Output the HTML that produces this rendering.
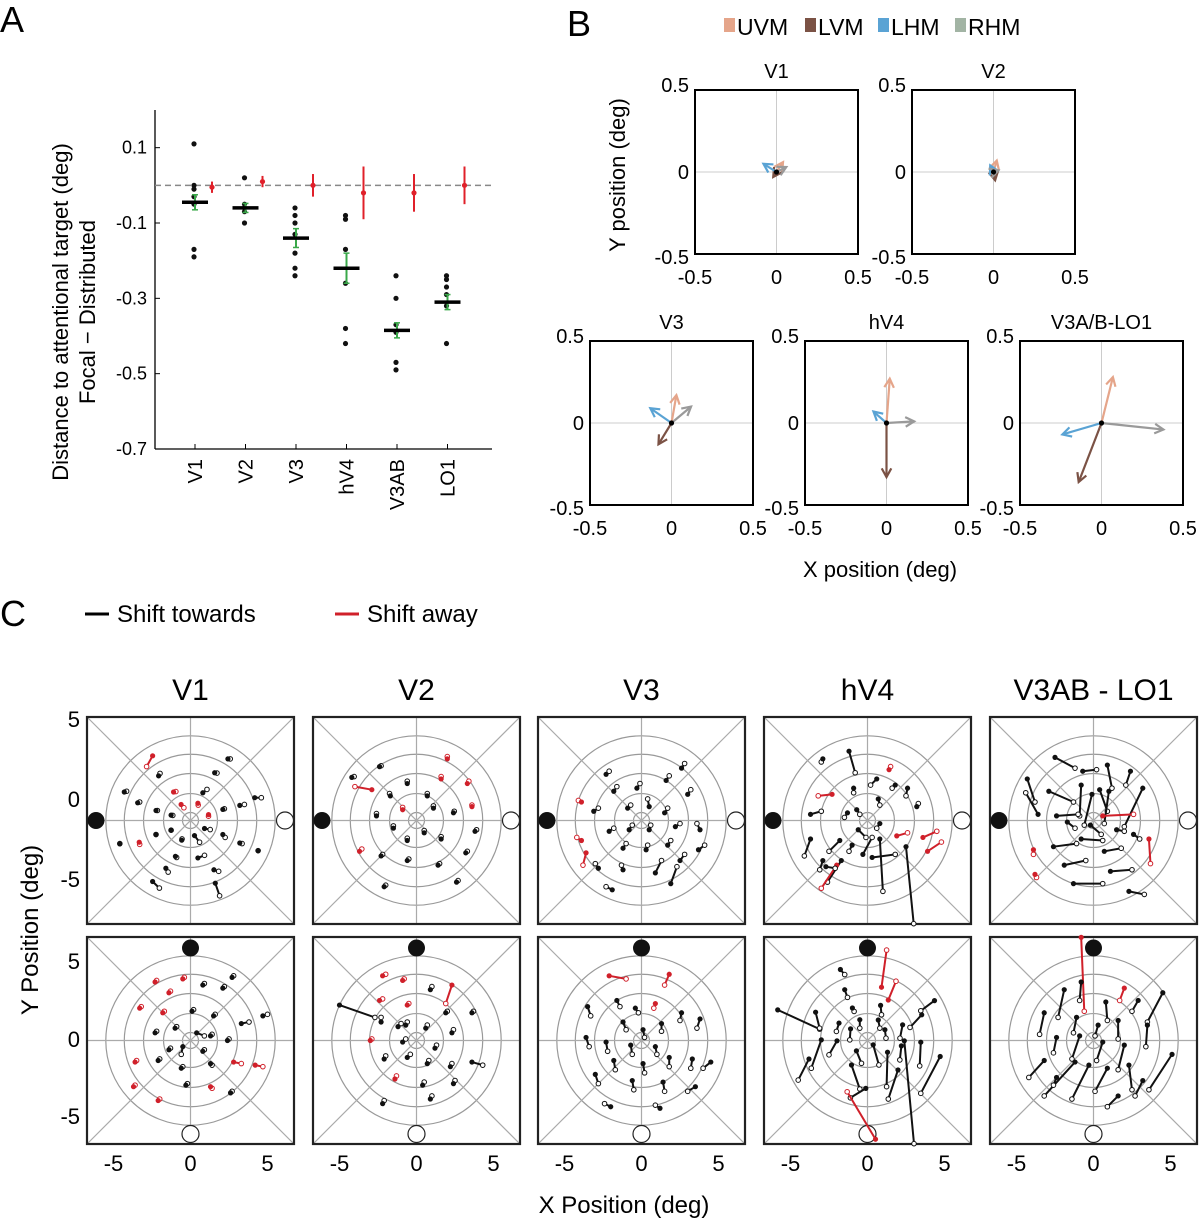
<!DOCTYPE html>
<html><head><meta charset="utf-8"><style>
body{margin:0;background:#fff}
svg{display:block;font-family:"Liberation Sans",sans-serif}
</style></head><body>
<svg id="fig" width="1200" height="1221" viewBox="0 0 1200 1221" xmlns="http://www.w3.org/2000/svg">
<g id="A"></g>
<g id="B"></g>
<g id="C"></g>
</svg>
<script>
// ---------- Panel A data ----------
const aCats = ["V1","V2","V3","hV4","V3AB","LO1"];
const aMeans = [-0.045,-0.06,-0.14,-0.22,-0.385,-0.31];
const aSE = [0.02,0.012,0.025,0.04,0.02,0.02];
const aDots = [[0.11,0.0,-0.01,-0.03,-0.05,-0.17,-0.19],[0.02,-0.05,-0.06,-0.07,-0.1],[-0.06,-0.08,-0.1,-0.13,-0.18,-0.22,-0.24],[-0.08,-0.09,-0.17,-0.26,-0.38,-0.42],[-0.24,-0.3,-0.37,-0.39,-0.47,-0.49],[-0.24,-0.25,-0.27,-0.29,-0.32,-0.42]];
const aRedMean = [-0.005,0.01,0.0,-0.02,-0.02,0.0];
const aRedErr = [0.015,0.015,0.03,0.07,0.05,0.05];
const aTicks = [0.1,-0.1,-0.3,-0.5,-0.7];

// ---------- Panel B data ----------
const bAreas = ["V1","V2","V3","hV4","V3A/B-LO1"];
const bConds = ["UVM","LVM","LHM","RHM"];
const bDX = [[0.04,-0.02,-0.08,0.06],[0.02,0.01,-0.02,0.03],[0.03,-0.08,-0.13,0.12],[0.02,0.0,-0.08,0.17],[0.07,-0.14,-0.24,0.38]];
const bDY = [[0.06,-0.03,0.05,0.03],[0.07,-0.05,0.04,0.01],[0.17,-0.13,0.09,0.1],[0.27,-0.33,0.07,0.01],[0.28,-0.36,-0.07,-0.04]];
const bTicks = [-0.5,0,0.5];

// ---------- Panel C data: [x1,y1,x2,y2,red] in deg (filled -> open) ----------
const cTitles = ["V1","V2","V3","hV4","V3AB - LO1"];
const cR1V1 = [[-2.46,4.2,-2.85,3.5,1],[-2.07,2.9,-1.98,3.06,0],[-4.3,1.85,-4.15,1.9,0],[-3.43,1.15,-3.3,1.2,0],[-2.24,0.65,-2.15,0.65,0],[-1.26,0.35,-1.15,0.33,0],[-1.1,1.85,-0.95,1.88,1],[-0.61,1.04,-0.43,0.83,1],[0.48,1.12,0.5,1.0,1],[1.17,0.38,1.17,0.28,1],[0.8,1.8,1.07,2.02,0],[1.57,3.1,1.72,3.08,0],[2.43,4.0,2.58,4.0,0],[4.17,1.48,4.6,1.48,0],[3.2,0.98,3.5,1.04,0],[2.1,0.72,2.2,0.76,0],[0.91,-0.52,1.28,-0.59,0],[0.26,-0.98,0.59,-1.41,0],[-0.57,-1.28,-0.55,-1.2,0],[-1.26,-0.63,-1.26,-0.63,0],[-2.24,-0.91,-2.24,-0.91,0],[-4.59,-1.52,-4.59,-1.5,0],[-3.33,-1.41,-3.3,-1.55,1],[-0.98,-2.33,-0.9,-2.4,0],[0.48,-2.43,0.91,-2.26,0],[2.1,-0.91,2.25,-1.1,0],[3.2,-1.46,3.35,-1.5,0],[4.39,-1.96,4.39,-1.96,0],[1.52,-3.2,1.83,-3.3,0],[-1.6,-3.1,-1.45,-3.35,0],[-2.46,-3.96,-2.02,-4.39,0],[1.61,-4.07,1.89,-4.89,0]];
const cR1V2 = [[-2.9,2.0,-4.0,2.2,1],[-3.7,-2.0,-3.55,-1.85,1],[-4.2,2.8,-4.05,2.85,0],[-2.4,3.5,-2.3,3.55,0],[-1.7,1.6,-1.75,1.75,0],[-0.6,2.4,-0.6,2.55,0],[1.6,2.7,1.6,2.85,1],[2.0,4.0,2.0,4.15,1],[3.3,2.4,3.4,2.55,1],[3.6,0.9,3.6,1.0,1],[2.4,0.5,2.45,0.6,0],[1.1,0.8,1.1,0.95,0],[0.7,1.6,0.7,1.75,0],[-0.9,0.7,-0.9,0.85,1],[-2.6,0.3,-2.6,0.45,0],[-1.5,-0.5,-1.5,-0.35,0],[0.5,-0.8,0.5,-0.65,0],[-0.6,-1.3,-0.6,-1.15,0],[1.6,-1.2,1.6,-1.05,0],[-2.3,-2.3,-2.2,-2.2,0],[-0.6,-2.6,-0.5,-2.5,0],[1.4,-2.9,1.5,-2.8,0],[3.2,-2.1,3.3,-2.0,0],[2.6,-4.0,2.7,-3.9,0],[-2.1,-4.3,-2.0,-4.2,0],[3.8,-0.7,3.9,-0.6,0]];
const cR1V3 = [[-3.9,1.2,-4.1,1.3,1],[-3.9,-1.3,-4.2,-1.1,1],[-3.6,-2.1,-3.8,-2.9,1],[-2.3,3.0,-2.1,3.2,0],[-3.1,0.6,-2.8,0.8,0],[-1.8,1.9,-1.6,2.2,0],[-0.3,2.1,-0.1,2.4,0],[1.6,2.6,1.8,2.9,0],[3.0,1.7,3.2,2.0,0],[2.6,3.4,2.8,3.7,0],[-0.9,0.8,-0.7,1.0,0],[0.5,0.9,0.4,1.4,0],[1.5,0.5,1.7,0.8,0],[2.2,-0.4,2.5,-0.2,0],[3.8,-0.6,3.6,-0.2,0],[0.5,-0.6,0.6,-0.3,0],[-0.8,-0.6,-0.6,-0.3,0],[-2.1,-0.7,-1.8,-0.5,0],[-1.2,-1.8,-1.0,-1.5,0],[0.3,-1.9,0.4,-1.6,0],[1.7,-1.6,1.9,-1.3,0],[2.5,-2.6,2.8,-2.2,0],[0.9,-3.4,1.3,-2.6,0],[-1.2,-3.2,-1.3,-2.9,0],[-2.8,-3.1,-3.0,-2.8,0],[-1.9,-4.5,-2.3,-4.3,0],[1.9,-4.1,2.3,-3.0,0],[3.7,-1.9,4.1,-1.6,0]];
const cR1HV4 = [[-2.3,1.7,-3.2,1.6,1],[-1.2,4.5,-0.8,3.1,0],[-2.9,4.0,-3.0,3.8,0],[-0.9,2.1,-0.9,1.8,0],[0.6,2.7,0.2,2.3,0],[1.4,3.3,1.5,3.5,1],[1.8,2.3,1.6,2.1,0],[2.6,2.1,2.5,1.6,0],[3.2,0.9,3.3,1.1,0],[-3.7,0.4,-3.0,0.6,0],[-1.3,0.5,-1.5,0.2,0],[-0.7,0.7,-0.5,0.4,0],[0.7,1.4,0.8,1.0,0],[-0.6,-0.6,-0.1,-1.1,0],[0.8,-0.2,0.6,-0.5,0],[1.9,-1.0,2.6,-0.8,1],[3.6,-1.1,4.5,-0.7,1],[3.9,-2.0,4.8,-1.4,1],[-3.7,-1.2,-4.1,-2.3,0],[-2.9,-2.6,-3.1,-3.2,0],[-1.8,-1.3,-2.5,-2.0,0],[-1.0,-1.6,-1.2,-2.0,0],[-0.3,-2.2,0.3,-1.1,0],[0.3,-2.4,1.8,-2.2,0],[-1.7,-2.6,-2.6,-4.0,0],[-2.0,-2.9,-3.0,-4.4,1],[0.8,-1.2,1.0,-4.6,0],[2.5,-1.7,3.0,-6.7,0],[-2.7,-3.0,-2.1,-3.1,0]];
const cR1V3AB = [[-4.3,2.7,-3.8,1.2,0],[-3.6,0.4,-4.4,1.8,0],[-2.9,1.9,-1.3,1.2,0],[-2.5,4.1,-1.2,3.4,0],[-0.7,3.2,0.2,3.3,0],[-0.8,2.3,-0.9,0.3,0],[-0.1,1.7,-0.6,-0.3,0],[0.4,2.0,0.9,0.6,0],[1.0,1.9,0.7,-0.2,0],[0.9,3.6,1.2,2.1,0],[2.4,3.2,2.1,2.3,0],[3.2,2.1,2.0,-0.4,0],[-2.4,0.3,-1.0,0.4,0],[-1.7,-0.1,-1.2,-0.5,0],[0.6,0.3,2.6,0.4,1],[-0.2,-0.3,0.5,-0.9,0],[3.6,-1.2,3.7,-2.8,1],[2.6,-0.9,3.0,-1.2,0],[-3.9,-1.9,-3.9,-2.2,1],[-3.8,-3.5,-3.7,-3.7,1],[-2.6,-1.7,-1.1,-1.5,0],[-1.9,-2.9,-0.5,-2.6,0],[-0.8,-1.2,0.6,-1.3,0],[0.7,-2.0,1.8,-1.8,0],[1.1,-3.3,2.5,-3.2,0],[-1.3,-4.1,0.6,-4.1,0],[2.3,-4.6,3.3,-4.8,0],[1.5,-0.6,2.0,-0.7,0]];
const cR2V1 = [[-2.3,3.8,-2.2,3.9,1],[-1.4,3.1,-1.3,3.2,1],[-0.5,4.0,-0.4,4.1,1],[0.8,3.6,0.9,3.7,0],[2.1,3.4,2.2,3.5,0],[2.7,4.1,2.8,4.2,0],[-3.3,2.1,-3.2,2.2,1],[-1.8,1.8,-1.7,1.9,1],[0.1,1.9,0.2,2.0,0],[1.5,1.6,1.6,1.7,0],[3.3,1.1,3.8,1.2,0],[4.7,1.6,5.0,1.7,0],[-2.3,0.5,-2.2,0.6,0],[-1.0,0.8,-0.9,0.9,0],[0.4,0.5,0.9,0.3,0],[1.3,0.3,1.4,0.4,0],[2.4,0.0,2.5,0.1,0],[-1.4,-0.6,-1.3,-0.5,0],[-0.5,-0.4,-0.6,-0.9,0],[0.8,-0.7,0.9,-0.6,0],[-3.6,-1.4,-3.5,-1.3,1],[-2.1,-1.3,-2.0,-1.2,0],[-0.6,-1.8,-0.5,-1.7,0],[1.3,-1.5,1.4,-1.6,0],[2.8,-1.4,3.3,-1.5,1],[4.2,-1.6,4.7,-1.7,1],[-3.7,-3.0,-3.6,-2.9,1],[-2.1,-3.9,-2.0,-3.8,1],[-0.3,-2.9,-0.2,-2.8,0],[1.3,-3.0,1.4,-3.1,1],[2.6,-3.4,2.7,-3.3,0]];
const cR2V2 = [[-5.0,2.3,-2.7,1.5,0],[-2.2,4.2,-2.0,4.3,1],[-0.9,3.9,-0.8,4.0,1],[2.3,3.6,1.9,2.4,1],[0.9,3.3,1.0,3.5,0],[-2.4,2.6,-2.2,2.7,1],[-0.6,2.3,-0.5,2.4,1],[1.9,1.8,2.0,1.9,0],[3.6,1.8,3.7,1.9,0],[-2.3,1.2,-2.3,1.5,0],[-1.2,0.9,-1.0,1.1,0],[0.6,0.8,0.7,1.0,0],[2.3,0.5,2.4,0.7,0],[-3.0,0.0,-2.9,0.1,1],[-0.9,-0.1,-0.7,0.1,0],[-0.7,1.0,-0.6,1.2,0],[1.2,-0.5,1.3,-0.3,0],[3.6,-1.4,4.3,-1.6,0],[-2.1,-1.2,-2.0,-1.0,0],[-0.6,-1.1,-0.4,-0.9,0],[0.7,-1.5,0.8,-1.3,0],[2.2,-1.7,2.3,-1.5,0],[-1.4,-2.5,-1.3,-2.3,1],[0.4,-2.9,0.5,-2.7,0],[2.4,-2.8,2.5,-2.6,0],[-2.2,-4.1,-2.1,-3.9,0],[0.9,-3.8,1.0,-3.6,0]];
const cR2V3 = [[-2.1,4.2,-1.0,4.0,1],[1.8,4.3,1.5,3.6,1],[-3.5,2.2,-3.3,1.6,0],[0.9,2.4,0.8,2.1,1],[-0.4,2.1,-0.2,1.8,0],[-1.6,2.6,-1.4,2.2,0],[2.6,1.8,2.5,1.3,0],[-1.2,1.2,-1.0,0.7,0],[0.1,0.7,0.2,0.2,0],[1.3,1.1,1.3,0.6,0],[3.8,1.4,3.6,0.8,0],[-3.6,0.2,-3.4,-0.4,0],[-2.3,-0.1,-2.2,-0.7,0],[0.9,-0.4,1.0,-0.9,0],[-0.7,-0.3,-0.6,-0.9,0],[-1.8,-1.3,-1.7,-1.9,0],[0.1,-1.5,0.2,-2.1,0],[1.8,-1.1,1.8,-1.7,0],[3.3,-1.2,3.2,-1.8,0],[-3.0,-2.2,-2.8,-2.8,0],[-0.6,-2.6,-0.5,-3.2,0],[1.4,-2.7,1.5,-3.3,0],[3.5,-3.0,3.0,-3.3,0],[-2.0,-4.3,-2.4,-4.1,0],[1.2,-4.4,0.9,-4.2,0],[4.5,-1.4,4.0,-1.8,0]];
const cR2HV4 = [[-5.83,1.99,-3.11,0.74,0],[-3.37,1.84,-3.11,0.8,0],[0.91,3.46,1.24,5.87,1],[1.35,2.63,1.85,3.85,1],[-1.76,4.61,-1.48,4.28,0],[-1.48,3.3,-1.3,2.8,0],[-0.98,2.11,-0.87,1.89,0],[0.85,2.28,0.91,1.67,0],[4.35,2.59,3.46,1.93,0],[3.52,1.67,2.76,0.85,0],[-1.85,1.13,-2.02,0.59,0],[-0.5,1.35,-0.5,0.8,0],[0.7,1.33,0.8,0.8,0],[2.28,1.02,2.11,0.15,0],[1.13,0.7,1.2,0.15,0],[-1.1,0.76,-1.15,0.04,0],[-3.0,0.04,-3.65,-1.8,0],[-1.98,-0.02,-2.5,-0.93,0],[-3.8,-1.2,-4.5,-2.57,0],[-0.72,-0.67,-0.39,-1.48,0],[0.37,-0.28,0.74,-1.59,0],[1.3,-0.76,1.24,-3.0,0],[2.39,-0.02,3.02,-6.7,0],[2.2,-0.35,2.1,-1.26,0],[3.46,-0.11,3.39,-1.65,0],[4.72,-1.04,3.46,-3.43,0],[1.98,-1.91,1.35,-3.8,0],[-1.04,-1.59,-0.5,-3.15,0],[-0.11,-3.11,-1.11,-3.72,0],[0.52,-6.41,-1.32,-3.33,1]];
const cR2V3AB = [[-0.8,6.7,-0.6,1.9,1],[2.0,3.4,1.7,2.6,1],[-1.9,3.3,-2.3,1.5,0],[-0.8,3.8,-0.9,2.6,0],[0.8,2.5,0.9,1.3,0],[2.9,2.6,2.5,1.9,0],[4.5,3.1,3.5,1.2,0],[-3.2,1.8,-3.5,0.4,0],[-1.1,1.5,-1.3,0.5,0],[0.3,1.0,0.1,0.3,0],[1.6,1.3,1.6,0.1,0],[3.5,1.0,3.4,-0.4,0],[-2.4,0.2,-2.6,-0.8,0],[-0.9,0.3,-1.4,-1.2,0],[0.6,-0.1,0.2,-1.3,0],[2.0,-0.3,1.6,-1.9,0],[-3.2,-1.3,-4.2,-2.4,0],[-1.2,-1.4,-3.2,-3.6,0],[-0.3,-1.6,-1.4,-3.8,0],[0.9,-1.8,0.1,-3.3,0],[2.3,-1.6,2.5,-3.2,0],[5.1,-0.9,3.6,-3.2,0],[-2.4,-2.4,-2.6,-2.9,0],[1.6,-3.6,0.9,-4.3,0],[3.2,-2.6,2.7,-3.6,0]];
const cData = [[cR1V1,cR1V2,cR1V3,cR1HV4,cR1V3AB],[cR2V1,cR2V2,cR2V3,cR2HV4,cR2V3AB]];
const cTicks = [-5,0,5];

const NS = "http://www.w3.org/2000/svg";
function mk(parent, tag, attrs, name, text){
  const e = document.createElementNS(NS, tag);
  for (const k in attrs) e.setAttribute(k, attrs[k]);
  
  
  if (text !== undefined) e.textContent = text;
  parent.appendChild(e);
  return e;
}

// ================= Panel A =================
(function(){
  const g = document.getElementById('A');
  const x0=155, x1=492, yTop=110, yBot=449;
  const ay = v => yTop + (0.2 - v) / 0.9 * (yBot - yTop);
  const ax = i => 195 + i * 50.5;
  mk(g,'text',{x:0,y:32,'font-size':36},'panel-letter-a','A');
  mk(g,'line',{x1:x0,y1:yTop,x2:x0,y2:yBot,stroke:'#000','stroke-width':1.3},'y-axis-line');
  mk(g,'line',{x1:x0,y1:yBot,x2:x1,y2:yBot,stroke:'#000','stroke-width':1.3},'x-axis-line');
  aTicks.forEach(t=>{
    mk(g,'line',{x1:x0,y1:ay(t),x2:x0+5,y2:ay(t),stroke:'#000'},'y-tick');
    mk(g,'text',{x:x0-8,y:ay(t)+6,'font-size':18,'text-anchor':'end'},'y-tick-label',String(t).replace('-0.','-0.'));
  });
  mk(g,'line',{x1:x0,y1:ay(0),x2:x1,y2:ay(0),stroke:'#888','stroke-width':1.5,'stroke-dasharray':'6,4'},'zero-line');
  const t1 = mk(g,'text',{x:0,y:0,'font-size':22,'text-anchor':'middle',transform:'translate(68,312) rotate(-90)'},'y-axis-title','Distance to attentional target (deg)');
  mk(g,'text',{x:0,y:0,'font-size':22,'text-anchor':'middle',transform:'translate(95,312) rotate(-90)'},'y-axis-subtitle','Focal \u2212 Distributed');
  aCats.forEach((c,i)=>{
    const cx = ax(i);
    mk(g,'line',{x1:cx,y1:yBot,x2:cx,y2:yBot-5,stroke:'#000'},'x-tick');
    mk(g,'text',{x:0,y:0,'font-size':20,'text-anchor':'end',transform:`translate(${cx+7},${yBot+10}) rotate(-90)`},'x-tick-label',c);
    aDots[i].forEach(v=>mk(g,'circle',{cx:cx-1,cy:ay(v),r:2.6,fill:'#111'},'subject-dot'));
    mk(g,'line',{x1:cx,y1:ay(aMeans[i]-aSE[i]),x2:cx,y2:ay(aMeans[i]+aSE[i]),stroke:'#3aa84a','stroke-width':2},'se-bar-'+c);
    mk(g,'line',{x1:cx-3,y1:ay(aMeans[i]-aSE[i]),x2:cx+3,y2:ay(aMeans[i]-aSE[i]),stroke:'#3aa84a','stroke-width':1.5},'se-cap');
    mk(g,'line',{x1:cx-3,y1:ay(aMeans[i]+aSE[i]),x2:cx+3,y2:ay(aMeans[i]+aSE[i]),stroke:'#3aa84a','stroke-width':1.5},'se-cap');
    mk(g,'line',{x1:cx-13,y1:ay(aMeans[i]),x2:cx+13,y2:ay(aMeans[i]),stroke:'#000','stroke-width':3.5},'mean-bar-'+c);
    const rx = cx + 17;
    mk(g,'line',{x1:rx,y1:ay(aRedMean[i]-aRedErr[i]),x2:rx,y2:ay(aRedMean[i]+aRedErr[i]),stroke:'#e0202a','stroke-width':2},'control-error-bar');
    mk(g,'circle',{cx:rx,cy:ay(aRedMean[i]),r:2.6,fill:'#e0202a'},'control-mean');
  });
})();

// ================= Panel B =================
(function(){
  const g = document.getElementById('B');
  const colors = ['#e5a58a','#7b5245','#5aa3d4','#9a9a9a'];
  const legCols = ['#e5a58a','#7b5245','#5aa3d4','#a2b4a4'];
  mk(g,'text',{x:567,y:36,'font-size':36},'panel-letter-b','B');
  const lx=[724,805,878,955];
  bConds.forEach((c,i)=>{
    mk(g,'rect',{x:lx[i],y:18,width:11,height:14,fill:legCols[i]},'legend-swatch-'+c.toLowerCase());
    mk(g,'text',{x:lx[i]+13,y:35,'font-size':23},'legend-label-'+c.toLowerCase(),c);
  });
  const boxes=[[695,90],[912,90],[590,341],[805,341],[1020,341]];
  const W=163,H=164;
  bAreas.forEach((a,k)=>{
    const [bx,by]=boxes[k];
    const sx = v => bx + (v+0.5)*W;
    const sy = v => by + (0.5-v)*H;
    mk(g,'text',{x:bx+W/2,y:by-12,'font-size':20,'text-anchor':'middle'},'subplot-title',a);
    mk(g,'line',{x1:sx(0),y1:by,x2:sx(0),y2:by+H,stroke:'#ccc'},'grid-v');
    mk(g,'line',{x1:bx,y1:sy(0),x2:bx+W,y2:sy(0),stroke:'#ccc'},'grid-h');
    mk(g,'rect',{x:bx,y:by,width:W,height:H,fill:'none',stroke:'#000','stroke-width':2},'axes-box');
    bTicks.forEach(t=>{
      mk(g,'text',{x:bx-6,y:sy(t)+(t===0.5?2:(t===-0.5?10:7)),'font-size':20,'text-anchor':'end'},'y-tick-label',String(t));
      mk(g,'text',{x:sx(t)+(t===-0.5?0:0),y:by+H+30,'font-size':20,'text-anchor':'middle'},'x-tick-label',String(t));
    });
    bConds.forEach((c,i)=>{
      const x2=sx(bDX[k][i]), y2=sy(bDY[k][i]), x1=sx(0), y1=sy(0);
      mk(g,'line',{x1:x1,y1:y1,x2:x2,y2:y2,stroke:colors[i],'stroke-width':2.2},'arrow-'+c.toLowerCase());
      const ang=Math.atan2(y2-y1,x2-x1), L=10;
      const p1=[x2-L*Math.cos(ang-0.5),y2-L*Math.sin(ang-0.5)], p2=[x2-L*Math.cos(ang+0.5),y2-L*Math.sin(ang+0.5)];
      mk(g,'polyline',{points:`${p1} ${x2},${y2} ${p2}`,fill:'none',stroke:colors[i],'stroke-width':2.2},'arrowhead-'+c.toLowerCase());
    });
    mk(g,'circle',{cx:sx(0),cy:sy(0),r:2.6,fill:'#000'},'origin-dot');
  });
  mk(g,'text',{x:0,y:0,'font-size':22,'text-anchor':'middle',transform:'translate(625,175) rotate(-90)'},'y-axis-title','Y position (deg)');
  mk(g,'text',{x:880,y:577,'font-size':22,'text-anchor':'middle'},'x-axis-title','X position (deg)');
})();

// ================= Panel C =================
(function(){
  const g = document.getElementById('C');
  mk(g,'text',{x:0,y:626,'font-size':36},'panel-letter-c','C');
  mk(g,'line',{x1:85,y1:614,x2:109,y2:614,stroke:'#000','stroke-width':3},'legend-line-towards');
  mk(g,'text',{x:117,y:622,'font-size':24},'legend-label-towards','Shift towards');
  mk(g,'line',{x1:335,y1:614,x2:359,y2:614,stroke:'#d0202a','stroke-width':3},'legend-line-away');
  mk(g,'text',{x:367,y:622,'font-size':24},'legend-label-away','Shift away');
  const colX=[87,313,538,764,990], rowY=[717,937], S=207, U=15.4;
  const rings=[0.52,1.75,3.05,4.3,5.5];
  cTitles.forEach((t,c)=>mk(g,'text',{x:colX[c]+S/2,y:700,'font-size':30,'text-anchor':'middle'},'column-title',t));
  for(let r=0;r<2;r++){
    for(let c=0;c<5;c++){
      const bx=colX[c], by=rowY[r], cx=bx+S/2, cy=by+S/2;
      const px=v=>cx+v*U, py=v=>cy-v*U;
      const pg=mk(g,'g',{},'shift-map-'+r+'-'+c);
      rings.forEach(rr=>mk(pg,'circle',{cx:cx,cy:cy,r:rr*U,fill:'none',stroke:'#999','stroke-width':1.2},'eccentricity-ring'));
      mk(pg,'line',{x1:bx,y1:cy,x2:bx+S,y2:cy,stroke:'#aaa','stroke-width':1.2},'horizontal-meridian');
      mk(pg,'line',{x1:cx,y1:by,x2:cx,y2:by+S,stroke:'#aaa','stroke-width':1.2},'vertical-meridian');
      mk(pg,'line',{x1:bx,y1:by,x2:bx+S,y2:by+S,stroke:'#aaa','stroke-width':1.2},'diagonal');
      mk(pg,'line',{x1:bx+S,y1:by,x2:bx,y2:by+S,stroke:'#aaa','stroke-width':1.2},'diagonal');
      mk(pg,'rect',{x:bx,y:by,width:S,height:S,fill:'none',stroke:'#222','stroke-width':2.2},'axes-box');
      if(r===0){
        mk(pg,'circle',{cx:bx+9,cy:cy,r:8.5,fill:'#111'},'attended-target');
        mk(pg,'circle',{cx:bx+S-9,cy:cy,r:8.5,fill:'#fff',stroke:'#222','stroke-width':1.2},'unattended-target');
      } else {
        mk(pg,'circle',{cx:cx,cy:by+11,r:8.5,fill:'#111'},'attended-target');
        mk(pg,'circle',{cx:cx,cy:by+S-10,r:8.5,fill:'#fff',stroke:'#222','stroke-width':1.2},'unattended-target');
      }
      cData[r][c].forEach(d=>{
        const col=d[4]?'#d0202a':'#111';
        mk(pg,'line',{x1:px(d[0]),y1:py(d[1]),x2:px(d[2]),y2:py(d[3]),stroke:col,'stroke-width':2},'shift-vector');
        mk(pg,'circle',{cx:px(d[2]),cy:py(d[3]),r:2.3,fill:'#fff',stroke:col,'stroke-width':1},'shift-end');
        mk(pg,'circle',{cx:px(d[0]),cy:py(d[1]),r:2.6,fill:col},'shift-start');
      });
      if(r===1) cTicks.forEach(t=>mk(g,'text',{x:cx+t*U,y:1171,'font-size':22,'text-anchor':'middle'},'x-tick-label',String(t)));
    }
  }
  const yl=[[727,807,887],[969,1047,1124]];
  [0,1].forEach(r=>[5,0,-5].forEach((t,i)=>mk(g,'text',{x:80,y:yl[r][i],'font-size':22,'text-anchor':'end'},'y-tick-label',String(t))));
  mk(g,'text',{x:624,y:1213,'font-size':24,'text-anchor':'middle'},'x-axis-title','X Position (deg)');
  mk(g,'text',{x:0,y:0,'font-size':24,'text-anchor':'middle',transform:'translate(38,930) rotate(-90)'},'y-axis-title','Y Position (deg)');
})();
</script>
</body></html>
